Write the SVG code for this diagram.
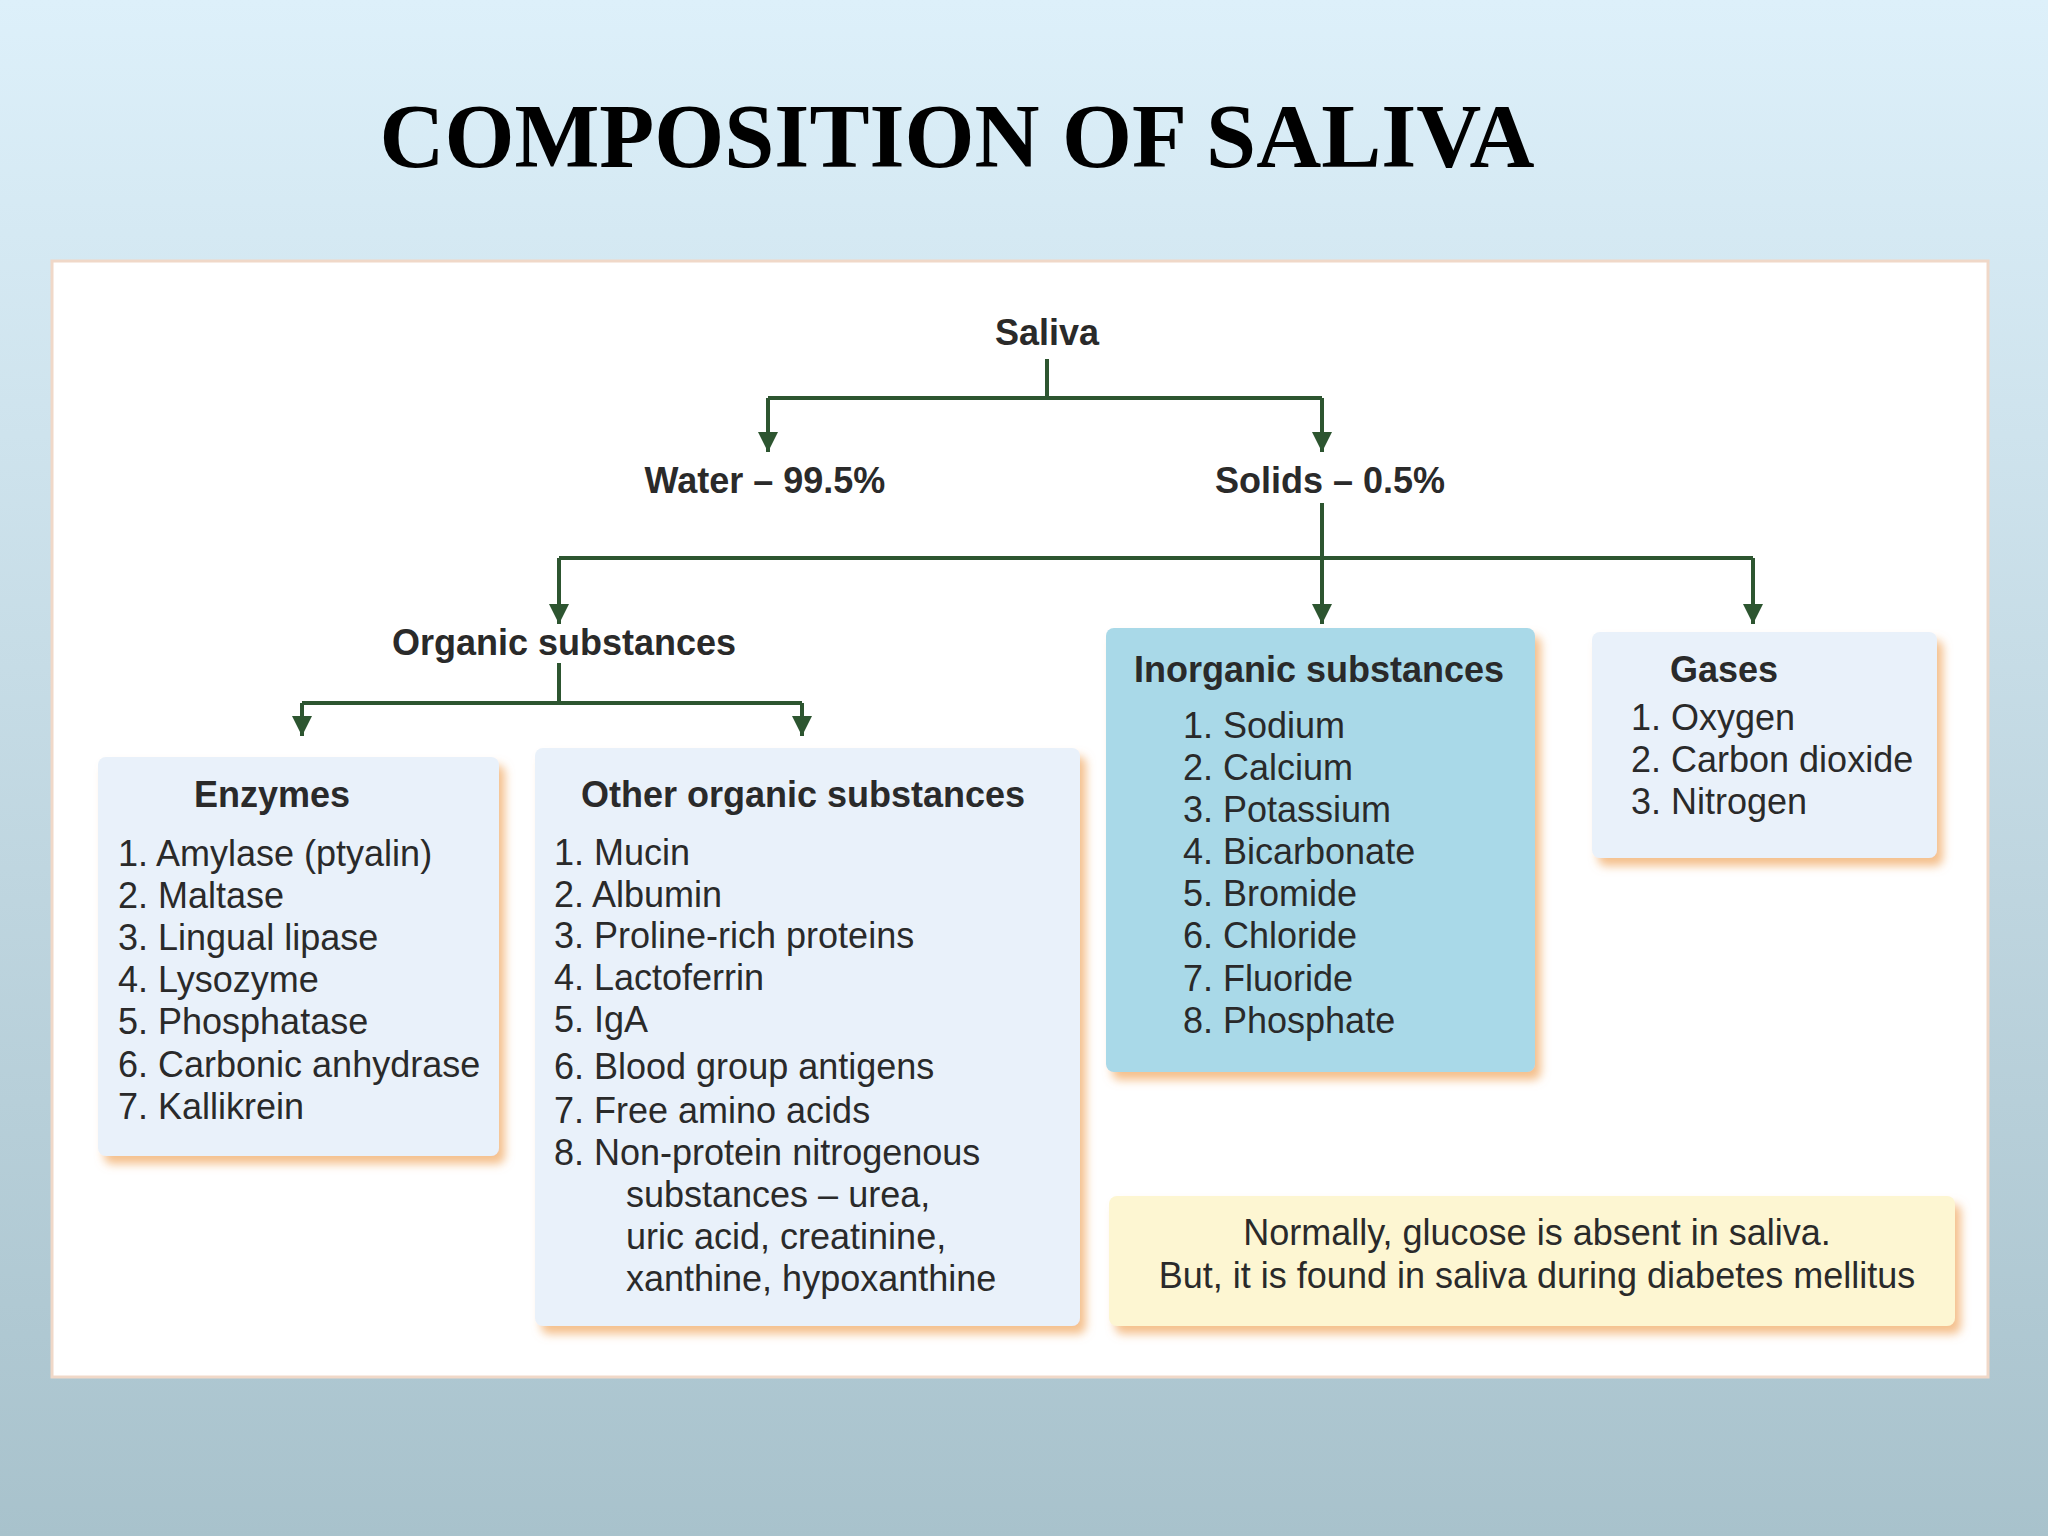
<svg xmlns="http://www.w3.org/2000/svg" width="2048" height="1536" viewBox="0 0 2048 1536">
<defs>
<linearGradient id="bg" x1="0" y1="0" x2="0" y2="1"><stop offset="0" stop-color="#ddf0fa"/><stop offset="1" stop-color="#a8c2cc"/></linearGradient>
<marker id="ar" viewBox="0 0 10 10" refX="10" refY="5" markerWidth="5" markerHeight="5" orient="auto"><path d="M0,0 L10,5 L0,10 z" fill="#2d5530"/></marker>
<filter id="sh" x="-10%" y="-10%" width="130%" height="130%"><feDropShadow dx="6" dy="8" stdDeviation="5" flood-color="#f2b070" flood-opacity="0.8"/></filter>
</defs>
<style>
.t{font-family:"Liberation Sans",Arial,sans-serif;fill:#2a2a2a;font-size:36px}
.h{font-family:"Liberation Sans",Arial,sans-serif;fill:#2a2a2a;font-size:36px;font-weight:bold;text-anchor:middle}
.c{stroke:#2d5530;stroke-width:4;fill:none}
.box{fill:#e9f1fa;filter:url(#sh)}
</style>
<rect width="2048" height="1536" fill="url(#bg)"/>
<text x="957" y="167" font-family="Liberation Serif,serif" font-weight="bold" font-size="90" text-anchor="middle">COMPOSITION OF SALIVA</text>
<rect x="52" y="261" width="1936" height="1116" fill="#fff" stroke="#f0d8c8" stroke-width="3"/>
<g id="connectors">
<path class="c" d="M1047,359 V398 M768,398 H1322"/>
<path class="c" d="M768,398 V452" marker-end="url(#ar)"/>
<path class="c" d="M1322,398 V452" marker-end="url(#ar)"/>
<path class="c" d="M1322,503 V624" marker-end="url(#ar)"/>
<path class="c" d="M559,558 H1753"/>
<path class="c" d="M559,558 V624" marker-end="url(#ar)"/>
<path class="c" d="M1753,558 V624" marker-end="url(#ar)"/>
<path class="c" d="M559,663 V703 M302,703 H802"/>
<path class="c" d="M302,703 V736" marker-end="url(#ar)"/>
<path class="c" d="M802,703 V736" marker-end="url(#ar)"/>
</g>
<g id="saliva"><text class="h" x="1047" y="345">Saliva</text></g>
<g id="water"><text class="h" x="765" y="493">Water – 99.5%</text></g>
<g id="solids"><text class="h" x="1330" y="493">Solids – 0.5%</text></g>
<g id="organic"><text class="h" x="564" y="655" font-size="30">Organic substances</text></g>
<g id="enzymes">
<rect class="box" x="98" y="757" width="401" height="399" rx="8"/>
<text class="h" x="272" y="807">Enzymes</text>
<text class="t" x="118" y="866">1. Amylase (ptyalin)</text>
<text class="t" x="118" y="908">2. Maltase</text>
<text class="t" x="118" y="950">3. Lingual lipase</text>
<text class="t" x="118" y="992">4. Lysozyme</text>
<text class="t" x="118" y="1034">5. Phosphatase</text>
<text class="t" x="118" y="1077">6. Carbonic anhydrase</text>
<text class="t" x="118" y="1119">7. Kallikrein</text>
</g>
<g id="other">
<rect class="box" x="535" y="748" width="545" height="578" rx="8"/>
<text class="h" x="803" y="807">Other organic substances</text>
<text class="t" x="554" y="865">1. Mucin</text>
<text class="t" x="554" y="907">2. Albumin</text>
<text class="t" x="554" y="948">3. Proline-rich proteins</text>
<text class="t" x="554" y="990">4. Lactoferrin</text>
<text class="t" x="554" y="1032">5. IgA</text>
<text class="t" x="554" y="1079">6. Blood group antigens</text>
<text class="t" x="554" y="1123">7. Free amino acids</text>
<text class="t" x="554" y="1165">8. Non-protein nitrogenous</text>
<text class="t" x="626" y="1207">substances – urea,</text>
<text class="t" x="626" y="1249">uric acid, creatinine,</text>
<text class="t" x="626" y="1291">xanthine, hypoxanthine</text>
</g>
<g id="inorganic">
<rect x="1106" y="628" width="429" height="444" rx="8" fill="#a9d9e8" filter="url(#sh)"/>
<text class="h" x="1319" y="682">Inorganic substances</text>
<text class="t" x="1183" y="738">1. Sodium</text>
<text class="t" x="1183" y="780">2. Calcium</text>
<text class="t" x="1183" y="822">3. Potassium</text>
<text class="t" x="1183" y="864">4. Bicarbonate</text>
<text class="t" x="1183" y="906">5. Bromide</text>
<text class="t" x="1183" y="948">6. Chloride</text>
<text class="t" x="1183" y="991">7. Fluoride</text>
<text class="t" x="1183" y="1033">8. Phosphate</text>
</g>
<g id="gases">
<rect class="box" x="1592" y="632" width="345" height="226" rx="8"/>
<text class="h" x="1724" y="682">Gases</text>
<text class="t" x="1631" y="730">1. Oxygen</text>
<text class="t" x="1631" y="772">2. Carbon dioxide</text>
<text class="t" x="1631" y="814">3. Nitrogen</text>
</g>
<g id="note">
<rect x="1109" y="1196" width="846" height="130" rx="8" fill="#fdf6d2" filter="url(#sh)"/>
<text class="t" x="1537" y="1245" text-anchor="middle">Normally, glucose is absent in saliva.</text>
<text class="t" x="1537" y="1288" text-anchor="middle">But, it is found in saliva during diabetes mellitus</text>
</g>
</svg>
